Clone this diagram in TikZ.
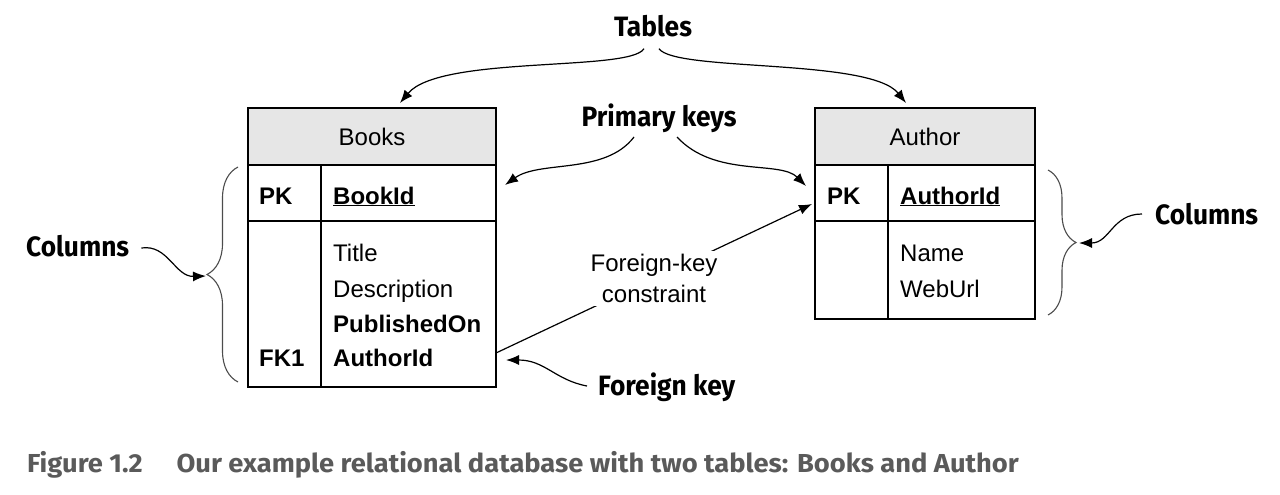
\documentclass[tikz,border=0pt]{standalone}
\usepackage{fontspec}
\setmainfont{Liberation Sans}
\newfontfamily\calloutfont[FakeStretch=0.94]{Fira Sans}
\newfontfamily\captionfont[FakeStretch=1.05]{Fira Sans}
\usepackage{tikz}
\usetikzlibrary{positioning,arrows.meta,decorations.pathreplacing}
\definecolor{headGray}{RGB}{230,230,230}
\definecolor{captionGray}{RGB}{90,90,90}

\begin{document}
\begin{tikzpicture}
  [
    x=1pt, y=-1pt,
    Cell/.style={rectangle, draw=black, line width=1.5pt, inner sep=0pt, outer sep=0pt},
    Head/.style={Cell, fill=headGray, minimum height=57pt, font=\fontsize{24}{28}\selectfont},
    Field/.style={anchor=base west, inner sep=0pt, font=\fontsize{24}{28}\selectfont},
    Callout/.style={inner sep=0pt, font=\calloutfont\bfseries\fontsize{28}{32}\selectfont},
    Pointer/.style={-{Latex[length=13pt,width=10pt]}, line width=1.2pt},
    Brace/.style={decorate, decoration={brace, amplitude=#1}, line width=1.1pt, draw=black!70}
  ]
  \useasboundingbox (0,0) rectangle (1280,495);

  % Books table
  \node[Head, minimum width=248pt] (booksHead) at (372,136.5) {Books};
  \node[Cell, minimum width=73pt, minimum height=56pt] (booksKey1) at (284.5,193) {};
  \node[Cell, minimum width=175pt, minimum height=56pt] (booksCol1) at (408.5,193) {};
  \node[Cell, minimum width=73pt, minimum height=166pt] (booksKey2) at (284.5,304) {};
  \node[Cell, minimum width=175pt, minimum height=166pt] (booksCol2) at (408.5,304) {};
  \node[Field] (bPK) at (259,204) {\textbf{PK}};
  \node[Field] (bBookId) at (333,204) {\textbf{\underline{BookId}}};
  \node[Field] (bTitle) at (333,261) {Title};
  \node[Field] (bDesc) at (333,297) {Description};
  \node[Field] (bPublished) at (333,332) {\textbf{PublishedOn}};
  \node[Field] (bFK) at (259,366) {\textbf{FK1}};
  \node[Field] (bAuthorId) at (333,366) {\textbf{AuthorId}};

  % Author table
  \node[Head, minimum width=220pt] (authorHead) at (925,136.5) {Author};
  \node[Cell, minimum width=73pt, minimum height=56pt] (authorKey1) at (851.5,193) {};
  \node[Cell, minimum width=147pt, minimum height=56pt] (authorCol1) at (961.5,193) {};
  \node[Cell, minimum width=73pt, minimum height=98pt] (authorKey2) at (851.5,270) {};
  \node[Cell, minimum width=147pt, minimum height=98pt] (authorCol2) at (961.5,270) {};
  \node[Field] (aPK) at (827,204) {\textbf{PK}};
  \node[Field] (aAuthorId) at (900,204) {\textbf{\underline{AuthorId}}};
  \node[Field] (aName) at (900,261) {Name};
  \node[Field] (aWebUrl) at (900,297) {WebUrl};

  % Callouts
  \node[Callout, anchor=base] (tables) at (653,37) {Tables};
  \node[Callout, anchor=base] (primary) at (659,126) {Primary keys};
  \node[Callout, anchor=base west] (colsLeft) at (26,256) {Columns};
  \node[Callout, anchor=base west] (colsRight) at (1155,224) {Columns};
  \node[Callout, anchor=base west] (foreign) at (598,395) {Foreign key};
  \coordinate (leftTip) at (206,276);
  \coordinate (rightTip) at (1079,243);

  % Braces
  \draw[Brace=31pt] (238,382) -- (238,167);
  \draw[Brace=28pt] (1048,170) -- (1048,315);

  % Lines
  \draw[Pointer] ([shift={(-9,11)}]tables.south) .. controls (630,72) and (440,55) .. ([shift={(28,-5)}]booksHead.north);
  \draw[Pointer] ([shift={(6,11)}]tables.south) .. controls (675,72) and (870,58) .. ([shift={(-19,-5)}]authorHead.north);
  \draw[Pointer] ([shift={(-25,11)}]primary.base) .. controls (605,175) and (540,160) .. ([shift={(9,-8)}]booksCol1.east);
  \draw[Pointer] ([shift={(18,11)}]primary.base) .. controls (715,178) and (780,160) .. ([shift={(-9,-7)}]authorKey1.west);
  \draw[Pointer] ([shift={(0,49)}]booksCol2.east) -- node[fill=white, inner sep=3pt, align=center, font=\fontsize{24}{31}\selectfont] (fkLabel) {Foreign-key\\constraint} ([shift={(-3,11)}]authorKey1.west);
  \draw[Pointer] ([shift={(-11,-9)}]foreign.base west) .. controls (555,380) and (545,360) .. ([shift={(10,56)}]booksCol2.east);
  \draw[Pointer] ([shift={(12,-8)}]colsLeft.base east) .. controls (168,244) and (175,277) .. (leftTip);
  \draw[Pointer] ([shift={(-13,-10)}]colsRight.base west) .. controls (1112,214) and (1110,243) .. (rightTip);

  % Caption
  \node[anchor=base west, inner sep=0pt, text=captionGray, font=\captionfont\bfseries\fontsize{26}{30}\selectfont] (caption) at (27,472) {Figure 1.2\hspace{1.3em}Our example relational database with two tables: Books and Author};
\end{tikzpicture}
\end{document}
